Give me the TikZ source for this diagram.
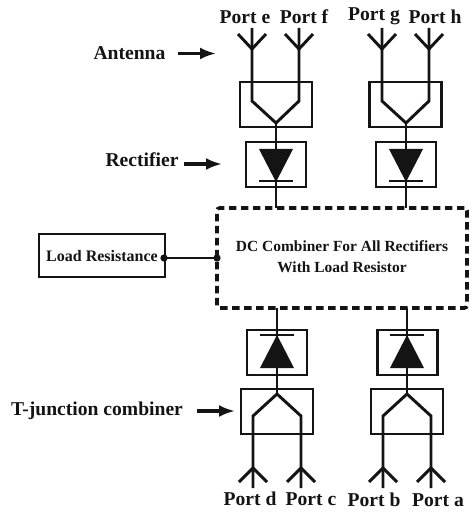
\documentclass[tikz,border=0pt]{standalone}
\usepackage{fontspec}
\setmainfont{Liberation Serif}
\usetikzlibrary{arrows.meta}
\newdimen\px \px=0.75pt
\tikzset{
  wire/.style={line width=2.2pt,line join=miter,black!92},
  frame/.style={draw=black!92,line width=2.1pt,fill=none,inner sep=0pt,minimum width=#1},
  lab/.style={font=\bfseries\fontsize{14.7pt}{16pt}\selectfont,inner sep=0pt,text=black!92},
  small/.style={inner sep=0pt,text=black!92,align=center},
  point/.style={arrows={-Latex[length=12pt,width=9pt]},line width=2.3pt,black!92},
  diode/.style={fill=black!92,draw=none},
  dot/.style={circle,fill=black!92,inner sep=0pt,minimum size=5.5pt},
  dcframe/.style={draw=black!92,line width=2.7pt,dash pattern=on 5.5pt off 3.5pt,rounded corners=2pt,inner sep=0pt,minimum width=250\px,minimum height=100\px},
}
\begin{document}
\begin{tikzpicture}[x=\px,y=-\px]
\useasboundingbox (0,0) rectangle (474,520);
\fill[white] (0,0) rectangle (474,520);
% combiner
\node[dcframe] (dc) at (342,258) {};
\node[small,font=\bfseries\fontsize{11.6pt}{15.5pt}\selectfont] (dctext) at (342,256.5) {DC Combiner For All Rectifiers\\With Load Resistor};
% load
\node[frame=126\px,minimum height=43\px] (load) at (102,255.5) {};
\node[small,font=\bfseries\fontsize{12pt}{13pt}\selectfont] (loadtext) at (102,256) {Load Resistance};
\node[dot] (d1) at (164,258) {};
\node[dot] (d2) at (217,258) {};
\draw[wire] (d1.center) -- (d2.center);
% top units: name / left port / right port / centre / box centre / rectifier centre
\foreach \n/\l/\r/\c/\b/\d in {A/252/299/276/276/276,B/382/429/406/405.5/406}{
  \node[frame=72\px,minimum height=45\px] (box\n) at (\b,104.5) {};
  \node[frame=60\px,minimum height=45\px] (rect\n) at (\d,164.5) {};
  \coordinate (tipL\n) at (\l,28); \coordinate (jL\n) at (\l,49);
  \coordinate (tipR\n) at (\r,28); \coordinate (jR\n) at (\r,49);
  \coordinate (aL1\n) at (\l-14,34); \coordinate (aL2\n) at (\l+14,34);
  \coordinate (aR1\n) at (\r-14,34); \coordinate (aR2\n) at (\r+14,34);
  \coordinate (sL\n) at (\l,101); \coordinate (sR\n) at (\r,101);
  \coordinate (m\n) at (\c,123); \coordinate (e\n) at (\c,208);
  \draw[wire] (tipL\n) -- (sL\n) -- (m\n) -- (sR\n) -- (tipR\n);
  \draw[wire] (aL1\n) -- (jL\n) -- (aL2\n);
  \draw[wire] (aR1\n) -- (jR\n) -- (aR2\n);
  \draw[wire] (m\n) -- (e\n);
  \fill[diode] (\c-17,149) -- (\c+17,149) -- (\c,182) -- cycle;
  \draw[wire] (\c-17,181) -- (\c+17,181);
}
% bottom units
\foreach \n/\l/\r/\c/\b/\d in {C/253/301/277/277/277,D/383/431/407/407/407.5}{
  \node[frame=72\px,minimum height=45\px] (box\n) at (\b,411.5) {};
  \node[frame=60\px,minimum height=45\px] (rect\n) at (\d,352.5) {};
  \coordinate (tipL\n) at (\l,488); \coordinate (jL\n) at (\l,468);
  \coordinate (tipR\n) at (\r,488); \coordinate (jR\n) at (\r,468);
  \coordinate (aL1\n) at (\l-14,482); \coordinate (aL2\n) at (\l+14,482);
  \coordinate (aR1\n) at (\r-14,482); \coordinate (aR2\n) at (\r+14,482);
  \coordinate (sL\n) at (\l,416); \coordinate (sR\n) at (\r,416);
  \coordinate (m\n) at (\c,394); \coordinate (e\n) at (\c,308);
  \draw[wire] (tipL\n) -- (sL\n) -- (m\n) -- (sR\n) -- (tipR\n);
  \draw[wire] (aL1\n) -- (jL\n) -- (aL2\n);
  \draw[wire] (aR1\n) -- (jR\n) -- (aR2\n);
  \draw[wire] (m\n) -- (e\n);
  \fill[diode] (\c-17,368) -- (\c+17,368) -- (\c,335) -- cycle;
  \draw[wire] (\c-17,335) -- (\c+17,335);
}
% port labels
\node[lab] (pe) at (245,17) {Port e};
\node[lab] (pf) at (304,17) {Port f};
\node[lab] (pg) at (374,16) {Port g};
\node[lab] (ph) at (435,17) {Port h};
\node[lab] (pd) at (250,499) {Port d};
\node[lab] (pc) at (311,499) {Port c};
\node[lab] (pb) at (374,500) {Port b};
\node[lab] (pa) at (438,500) {Port a};
% side labels
\node[lab] (ant) at (129.5,53) {Antenna};
\node[lab] (rec) at (142,160) {Rectifier};
\node[lab] (tj) at (97,411) {T-junction combiner};
\coordinate (antTo) at (216,53.5);
\coordinate (recTo) at (222,164);
\coordinate (tjTo) at (235,411);
\draw[point] (178,53.5) -- (antTo);
\draw[point] (184,164) -- (recTo);
\draw[point] (197,411) -- (tjTo);
\end{tikzpicture}
\end{document}
